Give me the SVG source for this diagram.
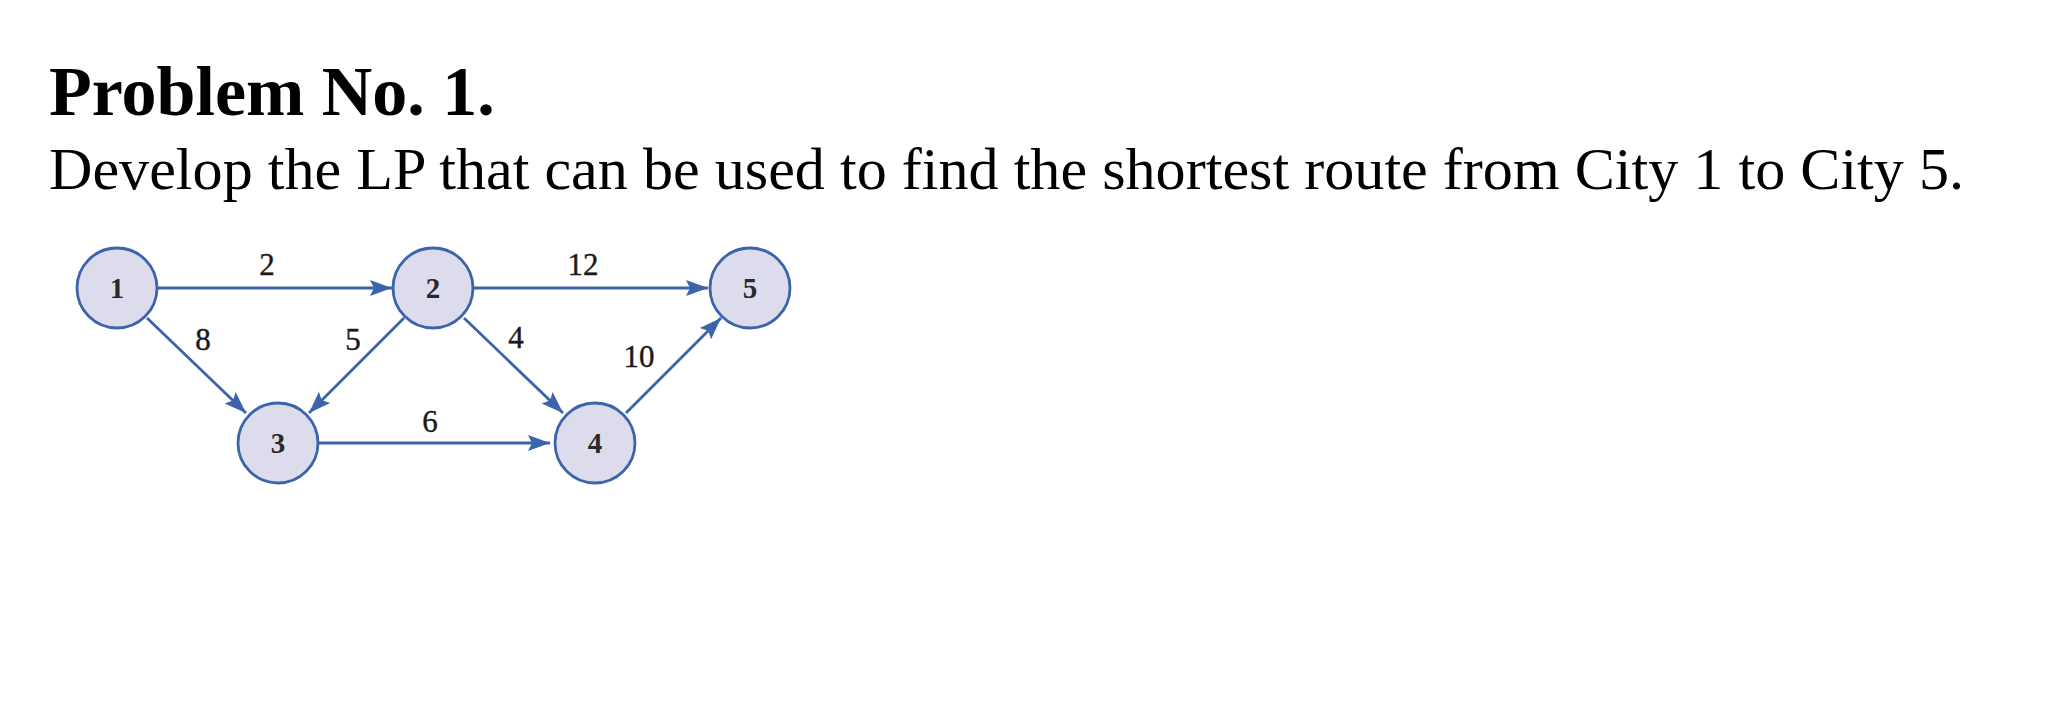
<svg xmlns="http://www.w3.org/2000/svg" width="2046" height="719" viewBox="0 0 2046 719">
<style>
.node circle{fill:#dcdcec;stroke:#3c64aa;stroke-width:2.8}
.node text{font-family:"Liberation Serif",serif;font-size:29px;font-weight:bold;fill:#2a2a2a;text-anchor:middle}
.edge{stroke:#3c64aa;stroke-width:2.8;fill:none;marker-end:url(#arr)}
.lbl{font-family:"Liberation Serif",serif;font-size:31px;fill:#1a1a1a;text-anchor:middle;stroke:#1a1a1a;stroke-width:0.4}
</style>
<defs>
<marker id="arr" markerUnits="userSpaceOnUse" markerWidth="22" markerHeight="18" viewBox="0 0 22 18" refX="22" refY="9" orient="auto">
<path d="M0,1 L22,9 L0,17 L4,9 Z" fill="#3c64aa"/>
</marker>
</defs>
<rect width="2046" height="719" fill="#fff"/>
<text x="49" y="115" font-family="'Liberation Serif',serif" font-weight="bold" font-size="70" fill="#000">Problem No. 1.</text>
<text x="49" y="189" font-family="'Liberation Serif',serif" font-size="60" fill="#000" textLength="1915" lengthAdjust="spacingAndGlyphs">Develop the LP that can be used to find the shortest route from City 1 to City 5.</text>
<g id="connectors">
<line class="edge" x1="157" y1="288" x2="392" y2="288"/>
<line class="edge" x1="474" y1="288" x2="708" y2="288"/>
<line class="edge" x1="147" y1="318" x2="246" y2="413"/>
<line class="edge" x1="404" y1="318" x2="309" y2="413"/>
<line class="edge" x1="318" y1="443" x2="550" y2="443"/>
<line class="edge" x1="464" y1="318" x2="563" y2="413"/>
<line class="edge" x1="626" y1="413" x2="721" y2="318"/>
<text class="lbl" x="267" y="275">2</text>
<text class="lbl" x="583" y="275">12</text>
<text class="lbl" x="203" y="350">8</text>
<text class="lbl" x="353" y="350">5</text>
<text class="lbl" x="516" y="348">4</text>
<text class="lbl" x="639" y="367">10</text>
<text class="lbl" x="430" y="432">6</text>
</g>
<g id="node1" class="node"><circle cx="117" cy="288" r="40"/><text x="117" y="298">1</text></g>
<g id="node2" class="node"><circle cx="433" cy="288" r="40"/><text x="433" y="298">2</text></g>
<g id="node3" class="node"><circle cx="278" cy="443" r="40"/><text x="278" y="453">3</text></g>
<g id="node4" class="node"><circle cx="595" cy="443" r="40"/><text x="595" y="453">4</text></g>
<g id="node5" class="node"><circle cx="750" cy="288" r="40"/><text x="750" y="298">5</text></g>
</svg>
